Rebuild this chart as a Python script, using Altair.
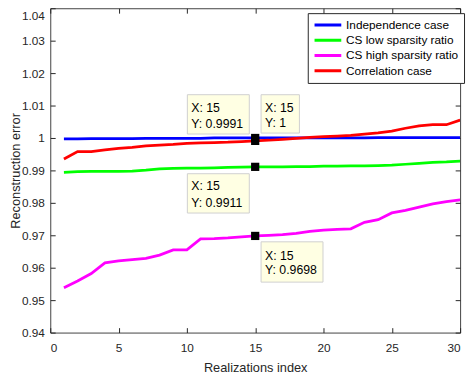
import altair as alt
import pandas as pd

# ---------------- data ----------------
idx = list(range(1, 31))
independence = [0.9997, 0.9997, 0.9998, 0.9998, 0.9998, 0.9998, 0.9999, 0.9999, 0.9999, 0.9999,
                0.9999, 1.0000, 1.0000, 1.0000, 1.0000, 1.0000, 1.0000, 1.0000, 1.0000, 1.0000,
                1.0000, 1.0000, 1.0000, 1.0001, 1.0001, 1.0001, 1.0001, 1.0001, 1.0001, 1.0001]
cs_low = [0.9894, 0.9896, 0.9897, 0.9897, 0.9897, 0.9898, 0.9901, 0.9905, 0.9906, 0.9907,
          0.9907, 0.9908, 0.9909, 0.9910, 0.9911, 0.9911, 0.9911, 0.9912, 0.9912, 0.9913,
          0.9913, 0.9914, 0.9914, 0.9915, 0.9916, 0.9919, 0.9922, 0.9925, 0.9926, 0.9929]
cs_high = [0.9538, 0.9559, 0.9582, 0.9615, 0.9621, 0.9625, 0.9629, 0.9639, 0.9655, 0.9655,
           0.9689, 0.9690, 0.9692, 0.9695, 0.9698, 0.9700, 0.9702, 0.9706, 0.9712, 0.9716,
           0.9718, 0.9720, 0.9740, 0.9748, 0.9769, 0.9777, 0.9787, 0.9797, 0.9804, 0.9809]
correlation = [0.9935, 0.9958, 0.9958, 0.9963, 0.9968, 0.9971, 0.9976, 0.9978, 0.9980, 0.9983,
               0.9985, 0.9986, 0.9987, 0.9989, 0.9991, 0.9993, 0.9996, 0.9999, 1.0002, 1.0004,
               1.0006, 1.0008, 1.0012, 1.0016, 1.0021, 1.0030, 1.0037, 1.0041, 1.0041, 1.0055]

series_names = ["Independence case", "CS low sparsity ratio", "CS high sparsity ratio", "Correlation case"]
series_colors = ["#0000FF", "#00FF00", "#FF00FF", "#FF0000"]
series_values = [independence, cs_low, cs_high, correlation]

x_ticks = [0, 5, 10, 15, 20, 25, 30]
y_ticks = [0.94, 0.95, 0.96, 0.97, 0.98, 0.99, 1.00, 1.01, 1.02, 1.03, 1.04]

tip_x = [15, 15, 15, 15]
tip_y = [0.9991, 1.0, 0.9911, 0.9698]
tip_line1 = ["X: 15", "X: 15", "X: 15", "X: 15"]
tip_line2 = ["Y: 0.9991", "Y: 1", "Y: 0.9911", "Y: 0.9698"]

# ---------------- tables ----------------
rows = []
for name, vals in zip(series_names, series_values):
    for i, v in zip(idx, vals):
        rows.append({"idx": i, "val": v, "series": name})
df = pd.DataFrame(rows)
tips = pd.DataFrame({"x": tip_x, "y": tip_y, "l1": tip_line1, "l2": tip_line2})

W, H = 417, 330
FONT = "Liberation Sans"
AX = "#262626"

xs = alt.Scale(domain=[0, 30], nice=False, zero=False)
ys = alt.Scale(domain=[0.94, 1.04], nice=False, zero=False)

lines = alt.Chart(df).mark_line(strokeWidth=2.8, clip=True).encode(
    x=alt.X("idx:Q", scale=xs, axis=alt.Axis(
        values=x_ticks, title="Realizations index", orient="bottom", ticks=False, domain=False,
        labelPadding=10, titlePadding=9, labelFontSize=12, titleFontSize=13,
        labelColor=AX, titleColor=AX, labelFont=FONT, titleFont=FONT, titleFontWeight="normal",
        grid=False)),
    y=alt.Y("val:Q", scale=ys, axis=alt.Axis(
        values=y_ticks, format=".2~f", title="Reconstruction error", orient="left", ticks=False,
        domain=False, labelPadding=6, labelFontSize=12, titleFontSize=13, labelColor=AX,
        titleColor=AX, labelFont=FONT, titleFont=FONT, titleFontWeight="normal",
        labelOffset={"condition": {"test": "datum.value > 1.035", "value": 7}, "value": 0},
        titleX=-41, titleBaseline="top", grid=False)),
    color=alt.Color("series:N", scale=alt.Scale(domain=series_names, range=series_colors),
                    sort=series_names,
                    legend=alt.Legend(
                        title=None, orient="none", legendX=262, legendY=5,
                        symbolType="stroke", symbolSize=740, symbolStrokeWidth=3,
                        clipHeight=14, rowPadding=1.5, labelFontSize=12, labelFont=FONT,
                        labelColor="#000000", labelOffset=3, padding=5,
                        strokeColor="#262626", fillColor="#FFFFFF")),
    detail="series:N",
)


def tick_layer(xorient, yorient, xoff, yoff):
    return alt.Chart(df).mark_point(opacity=0).encode(
        x=alt.X("idx:Q", scale=xs, axis=alt.Axis(
            values=x_ticks, orient=xorient, offset=xoff, labels=False, domain=False,
            tickSize=5, tickColor=AX, title=None, grid=False)),
        y=alt.Y("val:Q", scale=ys, axis=alt.Axis(
            values=y_ticks, orient=yorient, offset=yoff, labels=False, domain=False,
            tickSize=5, tickColor=AX, title=None, grid=False)),
    )


ticks_a = tick_layer("top", "right", -H, -W)
ticks_b = tick_layer("bottom", "left", -H, -W)


def tip_layers(i, bx0, bx1, by0, by1, tx, ty1, ty2):
    d = tips.iloc[[i]]
    enc = dict(
        x=alt.X("x:Q", scale=xs, axis=None),
        y=alt.Y("y:Q", scale=ys, axis=None),
    )
    box = alt.Chart(d).mark_rect(
        xOffset=bx0, x2Offset=bx1, yOffset=by0, y2Offset=by1,
        fill="#FFFFE3", stroke="#CFCFCF", strokeWidth=1,
    ).encode(x2="x:Q", y2="y:Q", **enc)
    t1 = alt.Chart(d).mark_text(align="left", baseline="middle", dx=tx, dy=ty1,
                                fontSize=12.5, font=FONT, color="#000000").encode(text="l1:N", **enc)
    t2 = alt.Chart(d).mark_text(align="left", baseline="middle", dx=tx, dy=ty2,
                                fontSize=12.5, font=FONT, color="#000000").encode(text="l2:N", **enc)
    return [box, t1, t2]


tip_parts = []
tip_parts += tip_layers(0, -69, -6, -47, -7, -65, -33, -17)
tip_parts += tip_layers(1, 6, 45, -44, -5, 10, -30, -15)
tip_parts += tip_layers(2, -69, -6, 7, 47, -65, 20, 37)
tip_parts += tip_layers(3, 6, 69, 6, 47, 10, 20, 35)

markers = alt.Chart(tips).mark_square(size=70, color="#000000", opacity=1).encode(
    x=alt.X("x:Q", scale=xs, axis=None),
    y=alt.Y("y:Q", scale=ys, axis=None),
)

chart = alt.layer(lines, ticks_a, ticks_b, *tip_parts, markers).resolve_axis(
    x="independent", y="independent"
).properties(
    width=W, height=H,
    autosize=alt.AutoSizeParams(type="none"),
    padding={"left": 43, "top": -3, "right": 6, "bottom": 45},
    background="#FFFFFF",
).configure_view(stroke="#404040", strokeWidth=1)

chart.save("out.html", embed_options={"renderer": "svg", "actions": False})
